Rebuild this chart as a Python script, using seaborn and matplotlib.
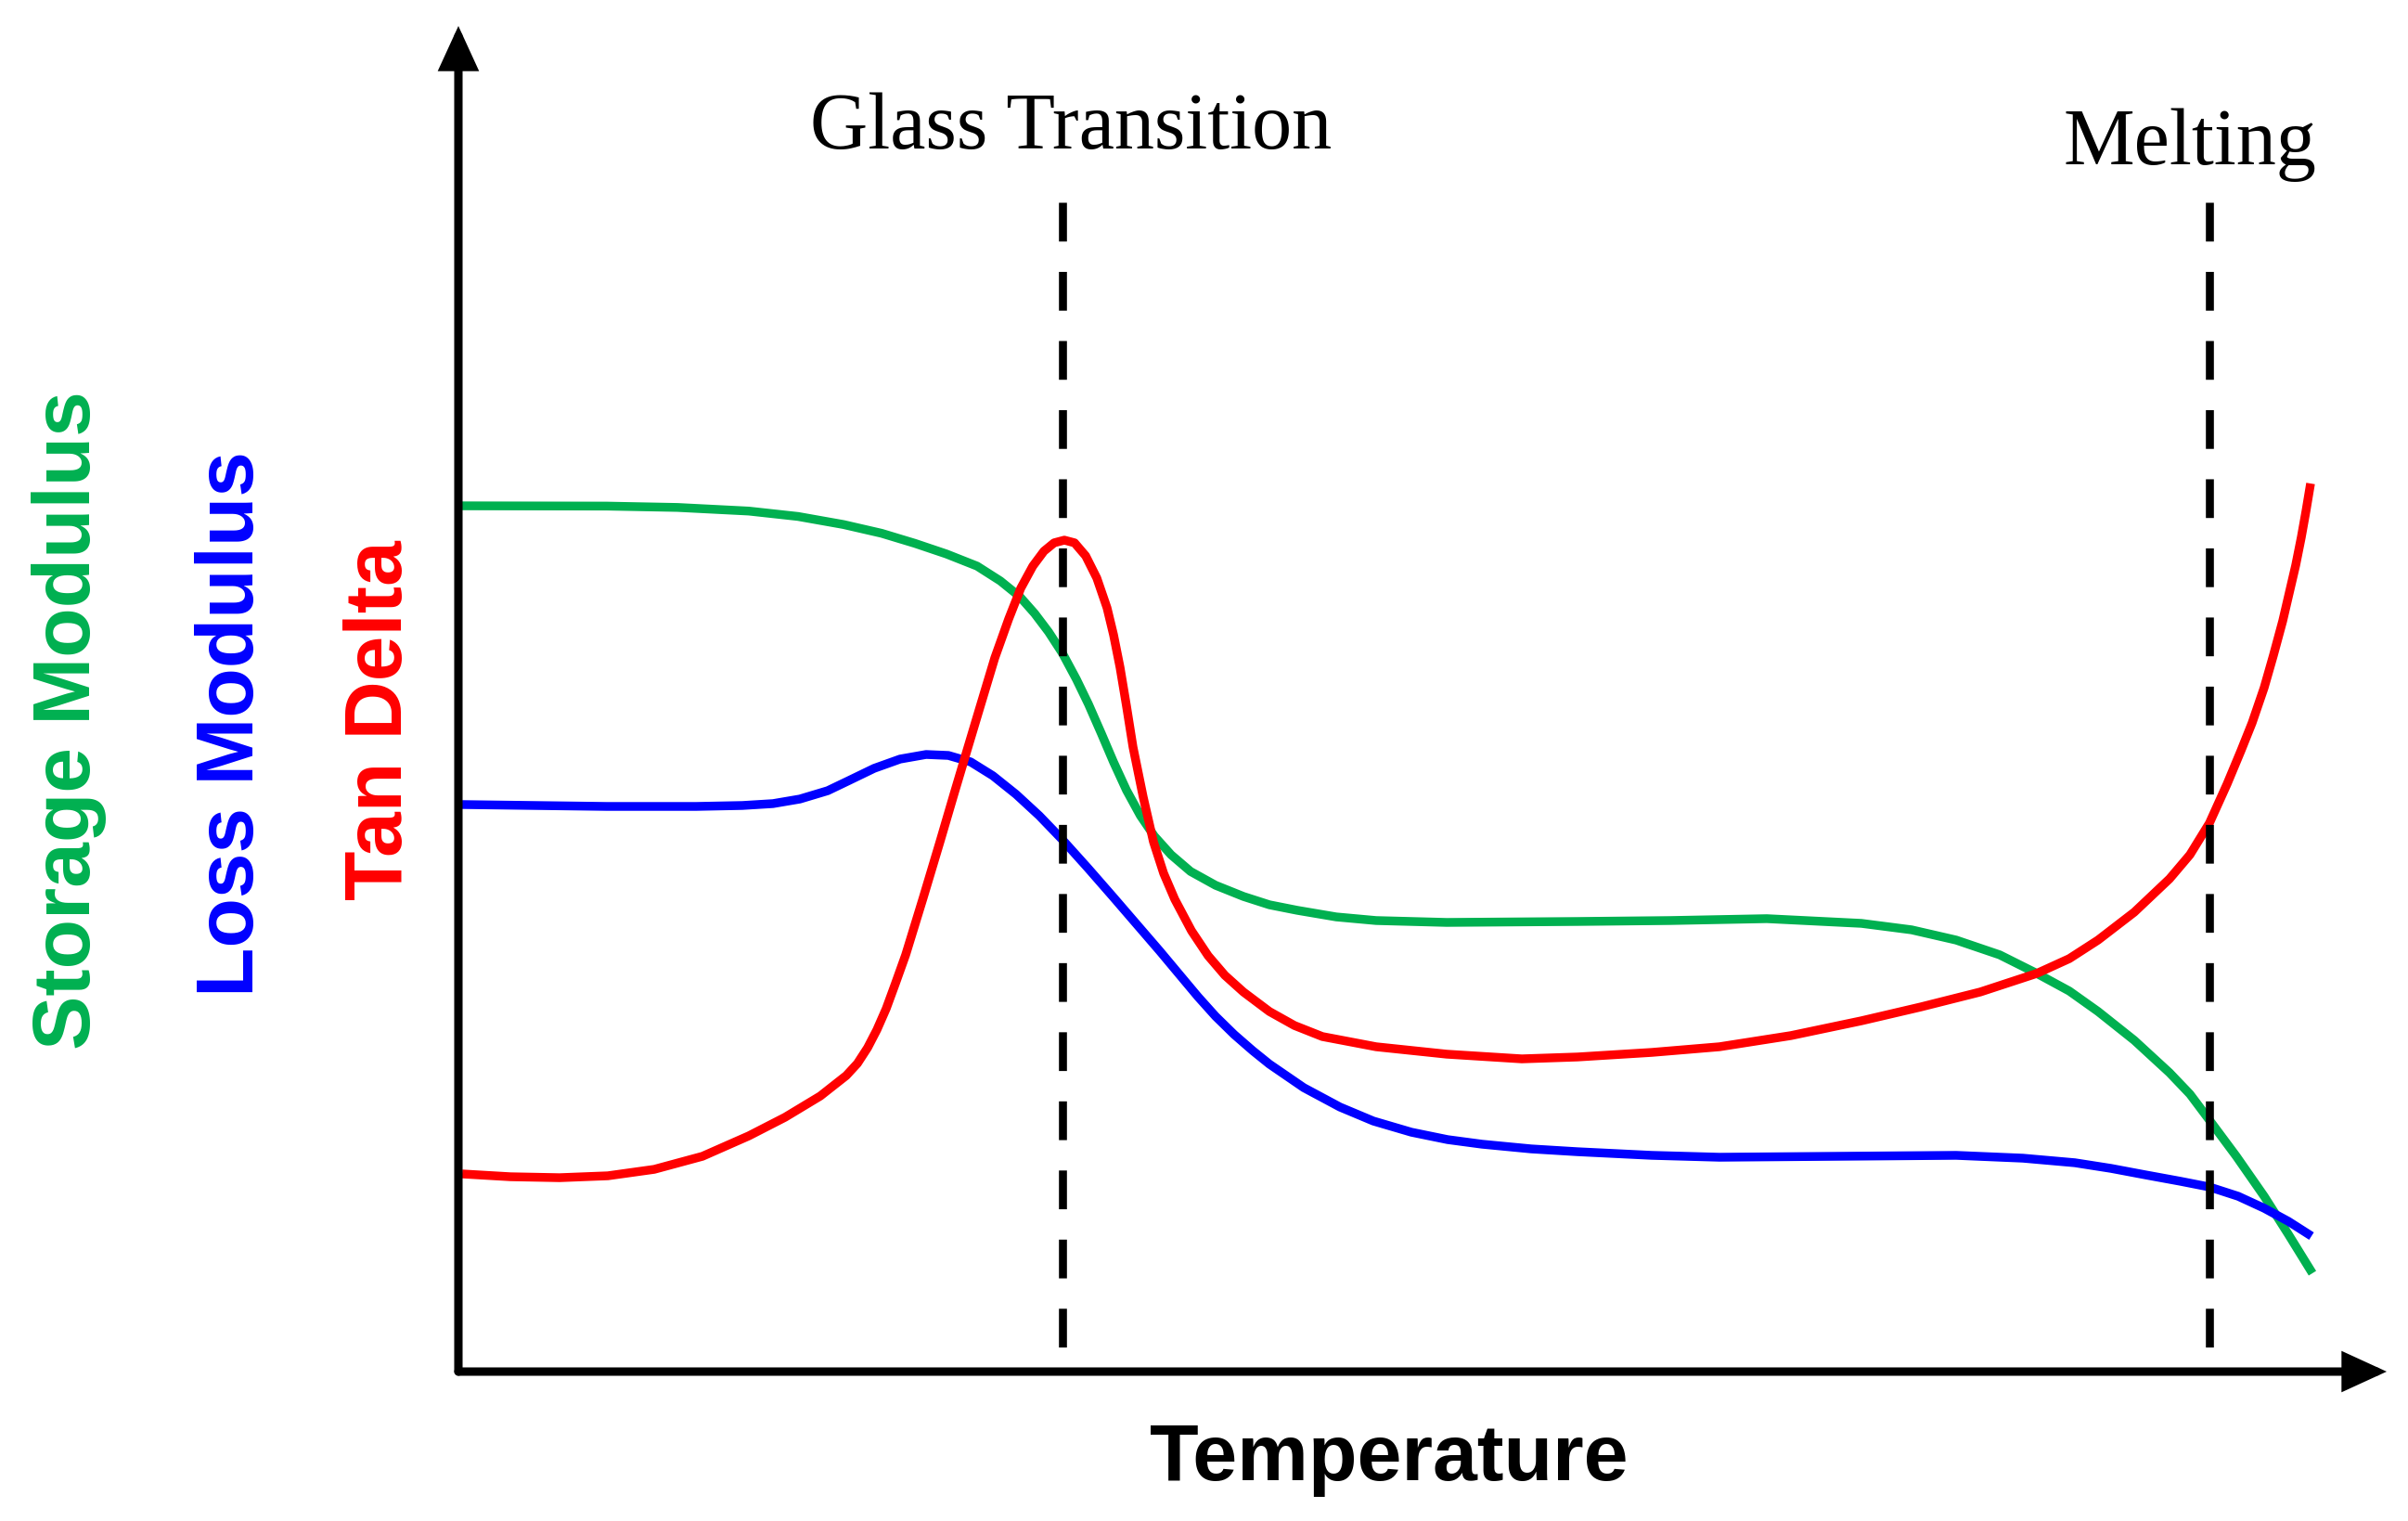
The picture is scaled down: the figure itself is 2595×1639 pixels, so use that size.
import matplotlib
matplotlib.use("Agg")
import matplotlib.pyplot as plt
import pandas as pd
import seaborn as sns

# ---------------- data (temperature / response in arbitrary units) ----------------
storage_T = [0.2, 4.3, 8.0, 11.8, 15.65, 18.3, 20.75, 22.8, 24.6, 26.3, 27.95, 29.2, 30.25,
             31.05, 31.8, 32.55, 33.3, 33.95, 34.65, 35.3, 36.0, 36.75, 37.5, 38.4, 39.45,
             40.8, 42.3, 43.7, 45.2, 47.3, 49.45, 53.25, 60.3, 65.3, 70.5, 75.6, 78.3, 80.7,
             83.05, 85.05, 86.8, 88.35, 90.3, 92.2, 93.3, 94.35, 95.8, 97.3, 98.6, 99.9]
storage_mod = [64.34, 64.33, 64.32, 64.22, 63.95, 63.55, 62.95, 62.3, 61.55, 60.76, 59.86,
               58.76, 57.59, 56.34, 54.97, 53.38, 51.45, 49.6, 47.4, 45.3, 43.2, 41.31,
               39.79, 38.41, 37.17, 36.14, 35.31, 34.69, 34.28, 33.79, 33.52, 33.38, 33.45,
               33.52, 33.66, 33.31, 32.83, 32.07, 30.97, 29.59, 28.28, 26.76, 24.62, 22.21,
               20.62, 18.69, 16.0, 13.03, 10.21, 7.31]

loss_T = [0.2, 8.0, 12.8, 15.3, 16.95, 18.4, 19.9, 21.05, 22.4, 23.8, 25.2, 26.4, 27.6, 28.8,
          30.05, 31.3, 32.55, 33.9, 35.3, 36.55, 37.8, 38.8, 39.85, 40.8, 41.8, 42.8, 43.7,
          45.55, 47.5, 49.3, 51.35, 53.3, 55.15, 57.8, 60.3, 64.3, 67.95, 74.3, 80.7, 84.3,
          87.1, 89.05, 90.9, 92.8, 94.35, 95.9, 97.3, 98.6, 99.85]
loss_mod = [42.14, 42.0, 42.0, 42.07, 42.21, 42.55, 43.17, 43.93, 44.83, 45.52, 45.86, 45.79,
            45.31, 44.28, 42.9, 41.31, 39.52, 37.45, 35.24, 33.24, 31.24, 29.59, 27.86, 26.4,
            25.05, 23.85, 22.85, 21.1, 19.66, 18.62, 17.79, 17.24, 16.9, 16.55, 16.34, 16.07,
            15.93, 16.0, 16.07, 15.86, 15.52, 15.1, 14.62, 14.14, 13.72, 13.03, 12.14, 11.17,
            10.07]

tan_T = [0.2, 2.8, 5.45, 8.05, 10.55, 13.15, 15.65, 17.6, 19.5, 20.9, 21.5, 22.05, 22.55,
         23.05, 23.55, 24.1, 25.05, 25.95, 26.7, 27.4, 28.15, 28.9, 29.65, 30.3, 30.95, 31.55,
         32.1, 32.65, 33.2, 33.8, 34.4, 34.95, 35.3, 35.65, 36.0, 36.35, 36.9, 37.45, 38.0,
         38.6, 39.5, 40.4, 41.3, 42.3, 43.7, 45.05, 46.55, 49.45, 53.25, 57.3, 60.3, 64.3,
         67.95, 71.8, 75.6, 78.8, 82.0, 85.05, 86.8, 88.35, 90.3, 92.2, 93.3, 94.35, 95.3,
         96.05, 96.65, 97.3, 97.8, 98.3, 98.65, 99.0, 99.3, 99.55, 99.8]
tan_delta = [14.69, 14.48, 14.41, 14.55, 15.03, 16.0, 17.52, 18.9, 20.48, 22.0, 22.9, 24.07,
             25.4, 26.97, 28.85, 30.97, 35.24, 39.38, 42.9, 46.14, 49.59, 53.03, 55.93,
             58.21, 59.86, 60.97, 61.59, 61.79, 61.59, 60.62, 58.97, 56.76, 54.76, 52.34,
             49.45, 46.41, 42.69, 39.38, 37.03, 35.1, 32.76, 30.9, 29.45, 28.21, 26.76,
             25.72, 24.9, 24.14, 23.59, 23.24, 23.38, 23.72, 24.14, 24.97, 26.07, 27.1, 28.21,
             29.59, 30.69, 32.07, 34.14, 36.62, 38.41, 40.76, 43.66, 46.14, 48.21, 50.83,
             53.24, 55.79, 57.86, 59.93, 62.0, 63.93, 66.0]

series_names = ["Storage Modulus", "Loss Modulus", "Tan Delta"]
series_colors = ["#00B050", "#0000FF", "#FF0000"]

transition_T = [32.55, 94.35]
transition_labels = ["Glass Transition", "Melting"]
dash_top, dash_bottom = 86.9, 1.8

x_label = "Temperature"

# ---------------- figure ----------------
sns.set_theme(style="white")
plt.rcParams["font.family"] = ["Liberation Sans", "DejaVu Sans"]

W, H = 2595, 1640
fig = plt.figure(figsize=(W / 100, H / 100), dpi=100)
ax = fig.add_axes([494 / W, (H - 1479) / H, (2572 - 494) / W, (1479 - 29) / H])

frames = []
for name, T, v in zip(series_names,
                      [storage_T, loss_T, tan_T],
                      [storage_mod, loss_mod, tan_delta]):
    frames.append(pd.DataFrame({"T": T, "value": v, "series": name}))
df = pd.concat(frames, ignore_index=True)

sns.lineplot(data=df, x="T", y="value", hue="series", hue_order=series_names,
             palette=series_colors, estimator=None, sort=False, units="series",
             linewidth=6.8, legend=False, ax=ax, solid_capstyle="butt",
             solid_joinstyle="round")

for t in transition_T:
    ax.plot([t, t], [dash_top, dash_bottom], color="black", linewidth=6.2,
            dashes=(4.85, 3.8), dash_capstyle="butt")

ax.set_xlim(0, (2572 - 494) / 20)
ax.set_ylim(0, 100)
ax.set_xticks([])
ax.set_yticks([])
ax.set_xlabel("")
ax.set_ylabel("")
for s in ax.spines.values():
    s.set_visible(False)

# axis arrows
arrow_kw = dict(arrowstyle="-|>,head_length=24,head_width=11", lw=6.5, color="black",
                shrinkA=0, shrinkB=0, mutation_scale=1, joinstyle="miter")
ax.annotate("", xy=(0, 1), xytext=(0, 0), xycoords="axes fraction",
            textcoords="axes fraction", arrowprops=arrow_kw, annotation_clip=False)
ax.annotate("", xy=(1, 0), xytext=(0, 0), xycoords="axes fraction",
            textcoords="axes fraction", arrowprops=arrow_kw, annotation_clip=False)

# transition labels
serif = ["Liberation Serif", "DejaVu Serif"]
fig.text(1154 / W, (H - 160) / H, transition_labels[0], family=serif, fontsize=62,
         ha="center", va="baseline", color="black")
fig.text(2360 / W, (H - 177) / H, transition_labels[1], family=serif, fontsize=62,
         ha="center", va="baseline", color="black")

# x label
fig.text(1497 / W, (H - 1595) / H, x_label, fontsize=62, fontweight="bold",
         ha="center", va="baseline", color="black")

# rotated y labels
for name, col, px, py in zip(series_names, series_colors, [97, 273, 433], [776, 780, 776]):
    fig.text(px / W, (H - py) / H, name, fontsize=63, fontweight="bold", color=col,
             rotation=90, rotation_mode="anchor", ha="center", va="baseline")

fig.savefig("out.png", dpi=100, facecolor="white")
